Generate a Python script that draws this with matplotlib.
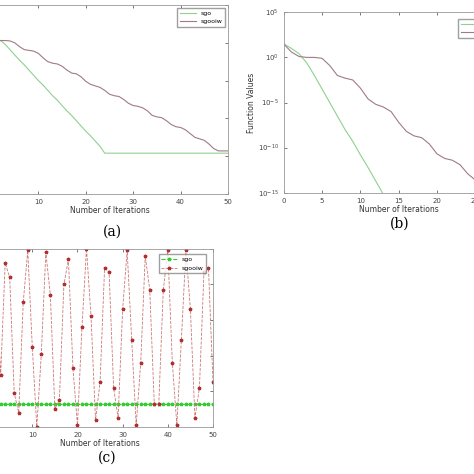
import matplotlib
matplotlib.use("Agg")
import matplotlib.pyplot as plt
import numpy as np

# Panel (a): log10 function values
a_iter = list(range(0, 51))
a_sgo_log = [0.9, 0.6, 0.3, -0.2, -0.9, -1.6, -2.3, -2.9, -3.6, -4.3, -5.0, -5.6, -6.3, -7.0, -7.6,
             -8.3, -9.0, -9.6, -10.3, -11.0, -11.7, -12.3, -13.0, -13.7, -14.6] + [-14.6] * 26
a_sgoo_log = [0.4, 0.35, 0.3, 0.3, 0.25, 0.0, -0.5, -0.9, -1.0, -1.1, -1.4, -2.0, -2.5, -2.7, -2.8,
              -3.1, -3.6, -4.0, -4.1, -4.5, -5.1, -5.5, -5.7, -5.9, -6.3, -6.8, -7.0, -7.1, -7.5,
              -8.0, -8.3, -8.4, -8.6, -9.0, -9.6, -9.8, -9.9, -10.3, -10.8, -11.1, -11.2, -11.5,
              -12.0, -12.5, -12.7, -12.9, -13.4, -14.0, -14.3, -14.3, -14.3]
# Panel (b)
b_iter_sgo = list(range(0, 14))
b_sgo_log = [1.5, 1.0, 0.4, -0.6, -2.0, -3.5, -5.0, -6.5, -8.0, -9.3, -10.8, -12.2, -13.7, -15.2]
b_iter = list(range(0, 26))
b_sgoo_log = [1.5, 0.6, 0.1, 0.0, 0.0, -0.1, -0.9, -2.0, -2.3, -2.5, -3.4, -4.6, -5.2, -5.5, -6.0,
              -7.2, -8.2, -8.7, -8.9, -9.6, -10.7, -11.2, -11.4, -11.9, -12.9, -13.6]
# Panel (c)
c_iter = list(range(1, 51))
c_sgo = [0.13] * 50
c_sgoo = [0.55, 0.85, 0.29, 0.92, 0.84, 0.19, 0.08, 0.70, 0.99, 0.45, 0.0, 0.41, 0.98, 0.74, 0.10,
          0.15, 0.80, 0.94, 0.33, 0.01, 0.56, 1.0, 0.62, 0.04, 0.25, 0.89, 0.87, 0.22, 0.05, 0.66,
          0.99, 0.49, 0.01, 0.36, 0.96, 0.77, 0.13, 0.13, 0.77, 0.99, 0.36, 0.01, 0.49, 0.99, 0.66,
          0.05, 0.22, 0.87, 0.89, 0.25]

GREEN = "#8fd18f"
PURPLE = "#a07a88"
W = H = 474.0
fig = plt.figure(figsize=(4.74, 4.74), dpi=100)
fig.patch.set_facecolor("white")

def ax_px(l, t, r, b):
    return fig.add_axes([l / W, 1 - b / H, (r - l) / W, (b - t) / H])

def style(ax):
    for s in ax.spines.values():
        s.set_color("#999999"); s.set_linewidth(0.6)
    ax.tick_params(labelsize=5, colors="#444444", length=2, width=0.5, direction="in", top=True, right=True)

# (a)
ax = ax_px(-9, 5, 228, 194)
style(ax)
ax.plot(a_iter, [10 ** v for v in a_sgo_log], color=GREEN, lw=0.8, label="sgo")
ax.plot(a_iter, [10 ** v for v in a_sgoo_log], color=PURPLE, lw=0.8, label="sgooiw")
ax.set_yscale("log"); ax.set_ylim(1e-20, 1e5); ax.set_xlim(0, 50)
ax.set_yticks([1e-20, 1e-15, 1e-10, 1e-5, 1e0, 1e5]); ax.minorticks_off()
ax.set_yticklabels([])
ax.set_xticks([10, 20, 30, 40, 50])
ax.set_xlabel("Number of Iterations", fontsize=5.5, labelpad=1, color="#333333")
ax.legend(loc="upper right", fontsize=4.5, frameon=True, edgecolor="#888888", fancybox=False, handlelength=2.5)
fig.text(112 / W, 1 - 236 / H, "(a)", fontsize=10, family="DejaVu Serif", ha="center")

# (b)
ax = ax_px(283.7, 12.3, 513.7, 192.7)
style(ax)
ax.plot(b_iter_sgo, [10 ** v for v in b_sgo_log], color=GREEN, lw=0.8, label="sgo")
ax.plot(b_iter, [10 ** v for v in b_sgoo_log], color=PURPLE, lw=0.8, label="sgooiw")
ax.set_yscale("log"); ax.set_ylim(1e-15, 1e5); ax.set_xlim(0, 30)
ax.set_yticks([1e-15, 1e-10, 1e-5, 1e0, 1e5]); ax.minorticks_off()
ax.set_yticklabels(["10$^{-15}$", "10$^{-10}$", "10$^{-5}$", "10$^{0}$", "10$^{5}$"])
ax.set_xticks([0, 5, 10, 15, 20, 25])
ax.set_xlabel("Number of Iterations", fontsize=5.5, labelpad=1, color="#333333")
ax.set_ylabel("Function Values", fontsize=5.5, labelpad=1, color="#333333")
ax.legend(loc="upper right", fontsize=4.5, frameon=True, edgecolor="#888888", fancybox=False,
          bbox_to_anchor=(0.98, 0.98), handlelength=2.5)
fig.text(400 / W, 1 - 228 / H, "(b)", fontsize=10, family="DejaVu Serif", ha="center")

# (c)
ax = ax_px(-12.9, 248.7, 213, 427)
style(ax)
ax.plot(c_iter, c_sgo, color="#33cc33", ls="--", lw=0.8, marker="*", ms=2.5, label="sgo")
ax.plot(c_iter, c_sgoo, color="#cc7777", ls="--", lw=0.6, marker="*", ms=2.5,
        markeredgecolor="#b03030", markerfacecolor="#b03030", label="sgooiw")
ax.set_xlim(0, 50); ax.set_ylim(0, 1.0)
ax.set_xticks([10, 20, 30, 40, 50]); ax.set_yticklabels([])
ax.set_xlabel("Number of Iterations", fontsize=5.5, labelpad=1, color="#333333")
ax.legend(loc="upper right", fontsize=4.5, frameon=True, edgecolor="#888888", fancybox=False,
          bbox_to_anchor=(0.985, 0.985), handlelength=2.5)
fig.text(107 / W, 1 - 462 / H, "(c)", fontsize=10, family="DejaVu Serif", ha="center")

fig.savefig("out.png", dpi=100, facecolor="white")
